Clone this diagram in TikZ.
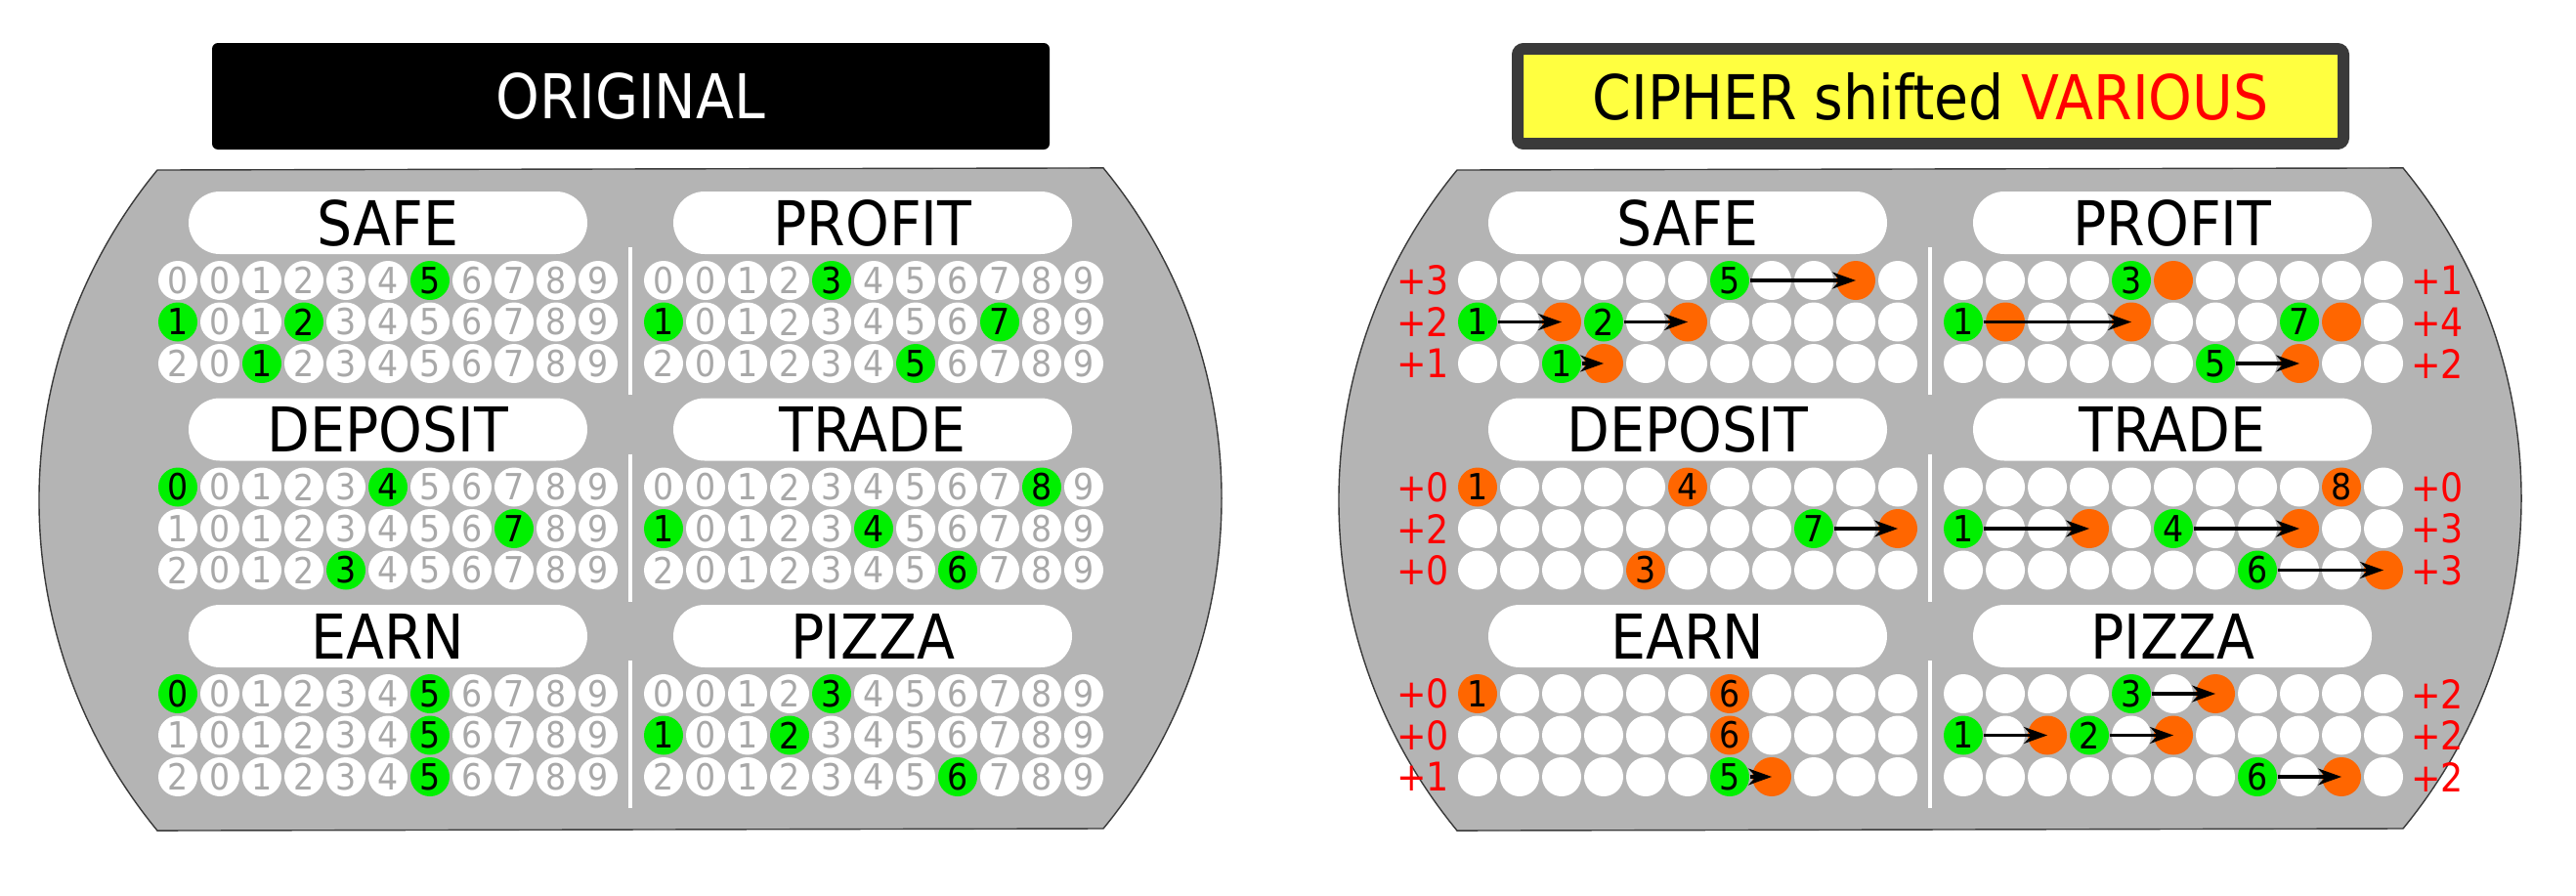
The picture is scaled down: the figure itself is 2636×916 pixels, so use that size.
\documentclass[tikz,border=0pt]{standalone}
\usepackage{fontspec}
\setmainfont{DejaVu Sans Condensed}
\usetikzlibrary{arrows.meta}

\definecolor{panelgray}{HTML}{B4B4B4}
\definecolor{edgegray}{HTML}{3A3A3A}
\definecolor{digitgray}{HTML}{A8A8A8}
\definecolor{hitgreen}{HTML}{00F000}
\definecolor{shiftorange}{HTML}{FF6600}
\definecolor{titleyellow}{HTML}{FFFF40}

\tikzset{
  bead/.style={circle, fill=white, minimum size=4mm, inner sep=0pt,
    text=digitgray, font=\fontsize{10.5}{10.5}\selectfont},
  hit/.style={bead, fill=hitgreen, text=black},
  moved/.style={bead, fill=shiftorange, text=black},
  word/.style={rounded corners=3.2mm, fill=white, minimum width=40.8mm,
    minimum height=6.4mm, inner sep=0pt, font=\fontsize{18}{18}\selectfont},
  offset/.style={text=red, inner sep=0pt, font=\fontsize{11.5}{11.5}\selectfont},
  move/.style={-{Stealth[length=2.4mm,width=1.7mm]}, line width=0.9pt},
}

\begin{document}
\begin{tikzpicture}[x=0.1mm, y=0.1mm]
  \useasboundingbox (0,0) rectangle (2636,916);

  % Titles
  \node[fill=black, rounded corners=0.6mm, minimum width=85.7mm, minimum height=10.9mm,
    text=white, font=\fontsize{18}{18}\selectfont] (origtitle) at (645.5,817.5) {ORIGINAL};
  \node[fill=titleyellow, draw=edgegray, line width=3.4pt, rounded corners=0.6mm,
    minimum width=84.5mm, minimum height=9.7mm, font=\fontsize{18}{18}\selectfont]
    (ciphertitle) at (1975.5,817.5) {CIPHER shifted \textcolor{red}{VARIOUS}};

  % Panels
  \foreach \px/\pn in {0/L, 1330/R} {
    \begin{scope}[shift={(\px,0)}]
      \draw[fill=panelgray, draw=edgegray, line width=0.4pt]
        (161,742) arc[start angle=140.6, end angle=219.4, radius=53.26mm]
        -- (1129,68) arc[start angle=-39.4, end angle=39.4, radius=53.26mm] -- cycle;
      \foreach \k/\wa/\wb in {0/SAFE/PROFIT, 1/DEPOSIT/TRADE, 2/EARN/PIZZA} {
        \node[word] (\pn-word-\k-0) at (397,{688-211.5*\k}) {\wa};
        \node[word] (\pn-word-\k-1) at (893,{688-211.5*\k}) {\wb};
        \draw[white, line width=1.4pt] (645,{663-211.5*\k}) -- (645,{512-211.5*\k});
      }
    \end{scope}
  }

  % Original beads (green ones looked up first)
  \foreach \k/\g/\r/\c in {0/0/0/6, 0/0/1/0, 0/0/1/3, 0/0/2/2,
      0/1/0/4, 0/1/1/0, 0/1/1/8, 0/1/2/6,
      1/0/0/0, 1/0/0/5, 1/0/1/8, 1/0/2/4,
      1/1/0/9, 1/1/1/0, 1/1/1/5, 1/1/2/7,
      2/0/0/0, 2/0/0/6, 2/0/1/6, 2/0/2/6,
      2/1/0/4, 2/1/1/0, 2/1/1/3, 2/1/2/7} {
    \expandafter\gdef\csname hit@\k@\g@\r@\c\endcsname{}
  }
  \foreach \k in {0,1,2} \foreach \g in {0,1} \foreach \r in {0,1,2} \foreach \c in {0,...,10} {
    \ifcsname hit@\k@\g@\r@\c\endcsname \def\kind{hit}\else \def\kind{bead}\fi
    \node[\kind] (L-\k-\g-\r-\c) at ({182+497*\g+43*\c},{629-42.5*\r-211.5*\k})
      {\ifnum\c=0 \r\else\number\numexpr\c-1\relax\fi};
  }

  % Cipher beads
  \foreach \k/\g/\r/\c/\s/\d in {0/0/0/6/hit/5, 0/0/0/9/moved/, 0/0/1/0/hit/1, 0/0/1/2/moved/,
      0/0/1/3/hit/2, 0/0/1/5/moved/, 0/0/2/2/hit/1, 0/0/2/3/moved/,
      0/1/0/4/hit/3, 0/1/0/5/moved/, 0/1/1/0/hit/1, 0/1/1/1/moved/, 0/1/1/4/moved/,
      0/1/1/8/hit/7, 0/1/1/9/moved/, 0/1/2/6/hit/5, 0/1/2/8/moved/,
      1/0/0/0/moved/1, 1/0/0/5/moved/4, 1/0/1/8/hit/7, 1/0/1/10/moved/, 1/0/2/4/moved/3,
      1/1/0/9/moved/8, 1/1/1/0/hit/1, 1/1/1/3/moved/, 1/1/1/5/hit/4, 1/1/1/8/moved/,
      1/1/2/7/hit/6, 1/1/2/10/moved/,
      2/0/0/0/moved/1, 2/0/0/6/moved/6, 2/0/1/6/moved/6, 2/0/2/6/hit/5, 2/0/2/7/moved/,
      2/1/0/4/hit/3, 2/1/0/6/moved/, 2/1/1/0/hit/1, 2/1/1/2/moved/, 2/1/1/3/hit/2,
      2/1/1/5/moved/, 2/1/2/7/hit/6, 2/1/2/9/moved/} {
    \expandafter\xdef\csname mark@\k@\g@\r@\c\endcsname{\s}
    \expandafter\xdef\csname text@\k@\g@\r@\c\endcsname{\d}
  }
  \foreach \k in {0,1,2} \foreach \g in {0,1} \foreach \r in {0,1,2} \foreach \c in {0,...,10} {
    \ifcsname mark@\k@\g@\r@\c\endcsname
      \edef\kind{\csname mark@\k@\g@\r@\c\endcsname}%
      \edef\label{\csname text@\k@\g@\r@\c\endcsname}%
    \else \def\kind{bead}\def\label{}\fi
    \node[\kind] (R-\k-\g-\r-\c) at ({1512+497*\g+43*\c},{629-42.5*\r-211.5*\k}) {\label};
  }

  % Shift arrows
  \foreach \k/\g/\r/\a/\b in {0/0/0/6/9, 0/0/1/0/2, 0/0/1/3/5, 0/0/2/2/3,
      0/1/1/0/4, 0/1/2/6/8, 1/0/1/8/10, 1/1/1/0/3, 1/1/1/5/8, 1/1/2/7/10,
      2/0/2/6/7, 2/1/0/4/6, 2/1/1/0/2, 2/1/1/3/5, 2/1/2/7/9} {
    \draw[move] (R-\k-\g-\r-\a.east) -- (R-\k-\g-\r-\b.center);
  }

  % Shift amounts
  \foreach \k/\g/\r/\t in {0/0/0/+3, 0/0/1/+2, 0/0/2/+1, 0/1/0/+1, 0/1/1/+4, 0/1/2/+2,
      1/0/0/+0, 1/0/1/+2, 1/0/2/+0, 1/1/0/+0, 1/1/1/+3, 1/1/2/+3,
      2/0/0/+0, 2/0/1/+0, 2/0/2/+1, 2/1/0/+2, 2/1/1/+2, 2/1/2/+2} {
    \node[offset] (off-\k-\g-\r) at ({1456+1038*\g},{629-42.5*\r-211.5*\k}) {\t};
  }
\end{tikzpicture}
\end{document}
